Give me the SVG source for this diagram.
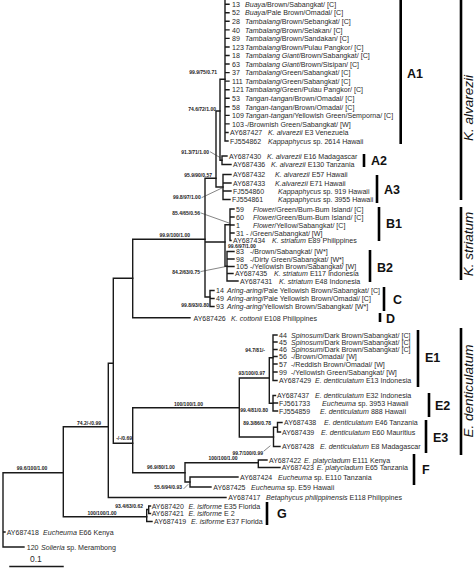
<svg xmlns="http://www.w3.org/2000/svg" width="474" height="568" viewBox="0 0 474 568">
<style>
.br{fill:none;stroke:#1a1a1a;stroke-width:1.4;stroke-linecap:square}
.ld{fill:none;stroke:#333;stroke-width:0.6}
.bar{stroke:#000;stroke-width:2.6}
text{font-family:"Liberation Sans",Arial,sans-serif;fill:#2a2a2a}
.t{font-size:7.1px}
.a{font-size:7px}
.i{font-style:italic}
.s{font-size:5px;font-weight:bold;fill:#222}
.se{font-size:5px;font-weight:bold;fill:#222;text-anchor:end}
.sm{font-size:5px;font-weight:bold;fill:#222;text-anchor:middle}
.cl{font-size:12.5px;font-weight:bold;fill:#111}
.sp{font-size:13.5px;font-style:italic;fill:#111;text-anchor:middle}
</style>

<g id="connectors" class="br">
<path d="M3,472.7V547M3,547H24M3,532H5M3,472.7H63.3"/>
<path d="M63.3,426.7V516.7M63.3,426.7H108.3M63.3,516.7H146.7"/>
<path d="M146.7,509.5V521.5M146.7,521.5H152M146.7,509.5H148.7M148.7,506V513.5M148.7,506H150.5M148.7,513.5H150.5"/>
<path d="M108.3,363.3V497.5M108.3,497.5H226M108.3,363.3H113.3"/>
<path d="M113.3,278.3V443.3M113.3,278.3H132.7M113.3,443.3H132.7"/>
<path d="M132.7,239.3V317.7M132.7,239.3H205M132.7,317.7H190"/>
<path d="M132.7,407.7V472.7M132.7,407.7H239.3M132.7,472.7H185"/>
<path d="M185,462.7V482M185,462.7H258.3M185,482H190"/>
<path d="M258.3,460V467.5M258.3,460H267M258.3,467.5H280"/>
<path d="M190,477V487M190,477H238M190,487H211"/>
<path d="M239.3,378V437M239.3,378H269.3M239.3,437H273.5"/>
<path d="M269.3,357.7V403.3M269.3,357.7H273M269.3,403.3H273"/>
<path d="M273,335V380.5M273,335H277M273,342H277M273,349.5H277M273,356.5H277M273,364H277M273,372H277M273,380.5H277"/>
<path d="M273,395.5V411M273,395.5H275.5M273,403H277.5M273,411H277.5"/>
<path d="M273.5,427.3V446.5M273.5,427.3H277.5M277.5,422.5V432M277.5,422.5H282M277.5,432H280.5M273.5,446.5H280"/>
<path d="M205,178.3V297M205,178.3H216M205,242H225M205,297H210"/>
<path d="M210,290.5V306.5M210,290.5H214M210,298.5H214M210,306.5H214"/>
<path d="M216,111V187M216,111H220M216,187H223"/>
<path d="M220,79.3V160.3M220,79.3H225M220,160.3H222"/>
<path d="M225,0V141M225,4.2H229M225,12.75H229M225,21.3H229M225,29.85H229M225,38.4H229M225,46.95H229M225,55.5H229M225,64.05H229M225,72.6H229M225,81.15H229M225,89.7H229M225,98.25H229M225,106.8H229M225,115.35H229M225,123.9H229M225,132.45H228M225,141H228"/>
<path d="M222,156V164.5M222,156H227M222,164.5H231"/>
<path d="M223,174.5V199.5M223,174.5H231M223,183H231M223,191H231M223,199.5H230"/>
<path d="M225,224.7V266.3M225,224.7H230M225,266.3H227"/>
<path d="M230,209V240.5M230,209H234M230,217H234M230,225H234M230,233H234M230,240.5H231"/>
<path d="M227,251.5V281M227,251.5H234M227,259H234M227,266.5H234M227,273.5H233M227,281H238"/>
<path class="ld" d="M210.5,152L220,157.5M202,197.5L222,188M201,213L229,223M201,271.5L226,266.5M184,488.5L188,484.5M264,451L270,446"/>
<path d="M10,566.5H63" style="stroke-width:1.5"/>
</g>

<g id="supports">
<text class="se" x="217" y="74">99.9/75/0.71</text>
<text class="se" x="216" y="110.5">74.6/72/1.00</text>
<text class="se" x="209" y="153.5">91.3/71/1.00</text>
<text class="se" x="212" y="176.5">95.9/90/0.57</text>
<text class="se" x="200.7" y="199">99.8/97/1.00</text>
<text class="se" x="200" y="214.5">85.4/65/0.56</text>
<text class="se" x="190" y="237">99.9/100/1.00</text>
<text class="s" x="228" y="248.3">99.6/97/1.00</text>
<text class="se" x="200" y="273.5">84.2/63/0.75</text>
<text class="se" x="209" y="307">99.8/93/0.80</text>
<text class="se" x="265" y="352">94.7/81/-</text>
<text class="se" x="265" y="375">93/100/0.97</text>
<text class="se" x="268" y="412">99.4/81/0.80</text>
<text class="se" x="271" y="424.5">89.3/86/0.78</text>
<text class="se" x="263" y="454.5">99.7/100/0.99</text>
<text class="sm" x="188.5" y="405.5">100/100/1.00</text>
<text class="sm" x="223" y="459.5">100/100/1.00</text>
<text class="sm" x="161" y="469">96.9/80/1.00</text>
<text class="se" x="182" y="489">55.6/94/0.93</text>
<text class="sm" x="32" y="470">99.6/100/1.00</text>
<text class="sm" x="89" y="425">74.2/-/0.99</text>
<text class="se" x="132" y="440">-/-/0.69</text>
<text class="sm" x="102" y="514.5">100/100/1.00</text>
<text class="se" x="143" y="508">93.4/63/0.62</text>
</g>

<g id="clade-A1" class="t">
<text x="232" y="6.9">13<tspan x="245" class="i">Buaya</tspan>/Brown/Sabangkat/ [C]</text>
<text x="232" y="15.45">52<tspan x="245" class="i">Buaya</tspan>/Pale Brown/Omadal/ [C]</text>
<text x="232" y="24">28<tspan x="245" class="i">Tambalang</tspan>/Brown/Sebangkat/ [C]</text>
<text x="232" y="32.55">40<tspan x="245" class="i">Tambalang</tspan>/Brown/Selakan/ [C]</text>
<text x="232" y="41.1">89<tspan x="245" class="i">Tambalang</tspan>/Brown/Sandakan/ [C]</text>
<text x="232" y="49.65">123<tspan x="245" class="i">Tambalang</tspan>/Brown/Pulau Pangkor/ [C]</text>
<text x="232" y="58.2">18<tspan x="245" class="i">Tambalang Giant</tspan>/Brown/Sabangkat/ [C]</text>
<text x="232" y="66.75">63<tspan x="245" class="i">Tambalang Giant</tspan>/Brown/Sisipan/ [C]</text>
<text x="232" y="75.3">37<tspan x="245" class="i">Tambalang</tspan>/Green/Sabangkat/ [C]</text>
<text x="232" y="83.85">111<tspan x="245" class="i">Tambalang</tspan>/Green/Sabangkat/ [C]</text>
<text x="232" y="92.4">121<tspan x="245" class="i">Tambalang</tspan>/Green/Pulau Pangkor/  [C]</text>
<text x="232" y="100.95">53<tspan x="245" class="i">Tangan-tangan</tspan>/Brown/Omadal/ [C]</text>
<text x="232" y="109.5">58<tspan x="245" class="i">Tangan-tangan</tspan>/Brown/Omadal/ [C]</text>
<text x="232" y="118.05">109<tspan x="245" class="i">Tangan-tangan</tspan>/Yellowish Green/Semporna/ [C]</text>
<text x="232" y="126.6">103<tspan x="245">-/Brownish Green/Sabangkat/ [W]</tspan></text>
<text x="230" y="135.15"><tspan class="a">AY687427</tspan><tspan x="268" class="i">K. alvarezii</tspan> E3 Venezuela</text>
<text x="230" y="143.7"><tspan class="a">FJ554862</tspan><tspan x="268" class="i">Kappaphycus</tspan> sp. 2614 Hawaii</text>
</g>

<g id="clade-A2" class="t">
<text x="229" y="158.7"><tspan class="a">AY687430</tspan><tspan x="267" class="i">K. alvarezii</tspan> E16 Madagascar</text>
<text x="233" y="167.2"><tspan class="a">AY687436</tspan><tspan x="271" class="i">K. alvarezii</tspan> E130 Tanzania</text>
</g>

<g id="clade-A3" class="t">
<text x="233" y="177.2"><tspan class="a">AY687432</tspan><tspan x="275" class="i">K. alvarezii</tspan> E57 Hawaii</text>
<text x="233" y="185.7"><tspan class="a">AY687433</tspan><tspan x="275" class="i">K.alvarezii</tspan> E71 Hawaii</text>
<text x="233" y="193.7"><tspan class="a">FJ554860</tspan><tspan x="278" class="i">Kappaphycus</tspan> sp. 919 Hawaii</text>
<text x="232" y="202.2"><tspan class="a">FJ554861</tspan><tspan x="278" class="i">Kappaphycus</tspan> sp. 3955 Hawaii</text>
</g>

<g id="clade-B1" class="t">
<text x="236" y="211.7">59<tspan x="253" class="i">Flower</tspan>/Green/Bum-Bum Island/ [C]</text>
<text x="236" y="219.7">60<tspan x="253" class="i">Flower</tspan>/Green/Bum-Bum Island/ [C]</text>
<text x="236" y="227.7">1<tspan x="253" class="i">Flower</tspan>/Yellow/Sabangkat/ [C]</text>
<text x="236" y="235.7">31<tspan x="246">- /Green/Sabangkat/  [W]</tspan></text>
<text x="233" y="243.2"><tspan class="a">AY687434</tspan><tspan x="272" class="i">K. striatum</tspan> E89 Philippines</text>
</g>

<g id="clade-B2" class="t">
<text x="236" y="254.2">83<tspan x="250">-/Brown/Sabangkat/  [W*]</tspan></text>
<text x="236" y="261.7">98<tspan x="250">-/Dirty Green/Sabangkat/  [W*]</tspan></text>
<text x="236" y="269.2">105<tspan x="250">-/Yellowish Brown/Sabangkat/  [W]</tspan></text>
<text x="235" y="276.2"><tspan class="a">AY687435</tspan><tspan x="274" class="i">K. striatum</tspan> E117 Indonesia</text>
<text x="240" y="283.7"><tspan class="a">AY687431</tspan><tspan x="279" class="i">K. striatum</tspan> E48 Indonesia</text>
</g>

<g id="clade-C" class="t">
<text x="216" y="293.2">14<tspan x="227" class="i">Aring-aring</tspan>/Pale Yellowish Brown/Sabangkat/ [C]</text>
<text x="216" y="301.2">49<tspan x="227" class="i">Aring-aring</tspan>/Pale Yellowish Brown/Omadal/ [C]</text>
<text x="216" y="309.2">93<tspan x="227" class="i">Aring-aring</tspan>/Yellowish Brown/Sabangkat/ [W*]</text>
</g>

<g id="clade-D" class="t">
<text x="193.5" y="320.7"><tspan class="a">AY687426</tspan><tspan x="231" class="i">K. cottonii</tspan> E108 Philippines</text>
</g>

<g id="clade-E1" class="t">
<text x="279" y="337.7">44<tspan x="291" class="i">Spinosum</tspan>/Dark Brown/Sabangkat/ [C]</text>
<text x="279" y="344.7">45<tspan x="291" class="i">Spinosum</tspan>/Dark Brown/Sabangkat/ [C]</text>
<text x="279" y="352.2">46<tspan x="291" class="i">Spinosum</tspan>/Dark Brown/Sabangkat/ [C]</text>
<text x="279" y="359.2">56<tspan x="291">-/Brown/Omadal/ [W]</tspan></text>
<text x="279" y="366.7">57<tspan x="291">-/Reddish Brown/Omadal/ [W]</tspan></text>
<text x="279" y="374.7">99<tspan x="291">-/Yellowish Green/Sabangkat/ [W]</tspan></text>
<text x="279" y="383.2"><tspan class="a">AY687429</tspan><tspan x="315" class="i">E. denticulatum</tspan> E13 Indonesia</text>
</g>

<g id="clade-E2" class="t">
<text x="277" y="398.2"><tspan class="a">AY687437</tspan><tspan x="315" class="i">E. denticulatum</tspan> E32 Indonesia</text>
<text x="279" y="405.7"><tspan class="a">FJ561733</tspan><tspan x="322" class="i">Eucheuma</tspan> sp. 3953 Hawaii</text>
<text x="279" y="413.7"><tspan class="a">FJ554859</tspan><tspan x="320" class="i">E. denticulatum</tspan> 888 Hawaii</text>
</g>

<g id="clade-E3" class="t">
<text x="284" y="425.2"><tspan class="a">AY687438</tspan><tspan x="324" class="i">E. denticulatum</tspan> E46 Tanzania</text>
<text x="282" y="434.7"><tspan class="a">AY687439</tspan><tspan x="321" class="i">E. denticulatum</tspan> E60 Mauritius</text>
<text x="282" y="449.2"><tspan class="a">AY687428</tspan><tspan x="320" class="i">E. denticulatum</tspan> E8 Madagascar</text>
</g>

<g id="clade-F" class="t">
<text x="269" y="462.7"><tspan class="a">AY687422</tspan><tspan x="304" class="i">E. platycladum</tspan> E111 Kenya</text>
<text x="281.7" y="470.2"><tspan class="a">AY687423</tspan><tspan x="316.7" class="i">E. platycladum</tspan> E65 Tanzania</text>
</g>

<g id="leaves-other" class="t">
<text x="240" y="479.7"><tspan class="a">AY687424</tspan><tspan x="278" class="i">Eucheuma</tspan> sp. E110 Tanzania</text>
<text x="213.3" y="489.7"><tspan class="a">AY687425</tspan><tspan x="251" class="i">Eucheuma</tspan> sp. E59 Hawaii</text>
<text x="228.3" y="500.2"><tspan class="a">AY687417</tspan><tspan x="266" class="i">Betaphycus philippinensis</tspan> E118 Philippines</text>
</g>

<g id="clade-G" class="t">
<text x="151.7" y="508.7"><tspan class="a">AY687420</tspan><tspan x="188.5" class="i">E. isiforme</tspan> E35 Florida</text>
<text x="151.7" y="516.2"><tspan class="a">AY687421</tspan><tspan x="188.5" class="i">E. isiforme</tspan> E 2</text>
<text x="154" y="524.2"><tspan class="a">AY687419</tspan><tspan x="191" class="i">E. isiforme</tspan> E37 Florida</text>
</g>

<g id="outgroup" class="t">
<text x="6.7" y="534.7"><tspan class="a">AY687418</tspan><tspan x="43" class="i">Eucheuma</tspan> E66 Kenya</text>
<text x="26.7" y="549.7">120<tspan x="41" class="i">Solieria</tspan> sp. Merambong</text>
</g>

<g id="scale">
<text x="30" y="562" style="font-size:8.5px">0.1</text>
</g>

<g id="clade-bars">
<line class="bar" x1="400.7" y1="0" x2="400.7" y2="144"/>
<text class="cl" x="407" y="77.5">A1</text>
<line class="bar" x1="364" y1="154" x2="364" y2="167"/>
<text class="cl" x="371" y="165">A2</text>
<line class="bar" x1="377" y1="175" x2="377" y2="203"/>
<text class="cl" x="384" y="193.5">A3</text>
<line class="bar" x1="379" y1="207" x2="379" y2="241"/>
<text class="cl" x="386" y="227.5">B1</text>
<line class="bar" x1="370" y1="250" x2="370" y2="282"/>
<text class="cl" x="377" y="271.5">B2</text>
<line class="bar" x1="384" y1="287" x2="384" y2="311"/>
<text class="cl" x="393" y="303.5">C</text>
<line class="bar" x1="380" y1="313" x2="380" y2="322"/>
<text class="cl" x="386" y="322.5">D</text>
<line class="bar" x1="418" y1="330" x2="418" y2="387"/>
<text class="cl" x="425" y="362">E1</text>
<line class="bar" x1="429" y1="393" x2="429" y2="417"/>
<text class="cl" x="435" y="409.5">E2</text>
<line class="bar" x1="426" y1="420" x2="426" y2="453"/>
<text class="cl" x="433" y="441.5">E3</text>
<line class="bar" x1="414" y1="454" x2="414" y2="485"/>
<text class="cl" x="422" y="473.5">F</text>
<line class="bar" x1="267" y1="502" x2="267" y2="525"/>
<text class="cl" x="277" y="517.5">G</text>
</g>

<g id="species">
<line class="bar" x1="461" y1="0" x2="461" y2="200"/>
<text class="sp" transform="translate(472.5,108) rotate(-90)">K. alvarezii</text>
<line class="bar" x1="461" y1="207" x2="461" y2="280"/>
<text class="sp" transform="translate(472.5,244) rotate(-90)">K. striatum</text>
<line class="bar" x1="461" y1="328" x2="461" y2="455"/>
<text class="sp" transform="translate(472.5,391) rotate(-90)">E. denticulatum</text>
</g>
</svg>
